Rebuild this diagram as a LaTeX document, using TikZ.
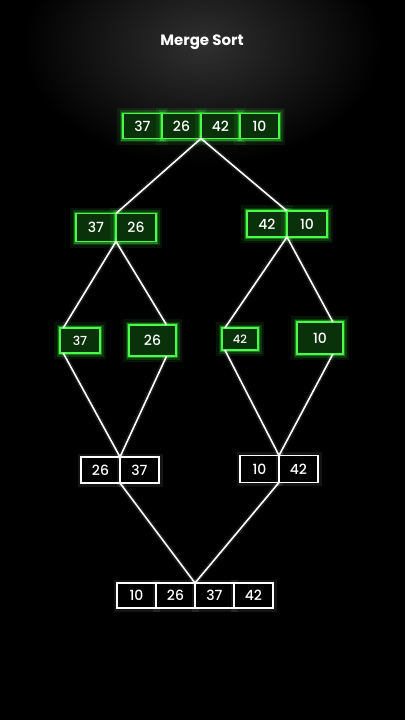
\documentclass[tikz,border=0pt]{standalone}
\usepackage{fontspec}
\setmainfont{Poppins}
\newfontfamily\numfont{Poppins Medium}
\definecolor{NeonGreen}{RGB}{70,255,70}
\definecolor{CellGreen}{RGB}{10,50,10}
\definecolor{TitleGlow}{RGB}{48,48,48}
\usetikzlibrary{calc, positioning}

\begin{document}
\begin{tikzpicture}[x=1pt, y=-1pt,
    cellg/.style={draw=NeonGreen, fill=CellGreen, line width=1.8pt, text=white,
        inner sep=0pt, outer sep=0pt, minimum width=39pt, minimum height=25pt,
        font=\numfont\fontsize{14}{14}\selectfont,
        preaction={draw=NeonGreen, line width=12pt, draw opacity=0.08},
        preaction={draw=NeonGreen, line width=7pt, draw opacity=0.15},
        preaction={draw=NeonGreen, line width=4pt, draw opacity=0.35}},
    cellw/.style={draw=white, fill=black, line width=1.6pt, text=white,
        inner sep=0pt, outer sep=0pt, minimum width=39pt, minimum height=25pt,
        font=\numfont\fontsize{14}{14}\selectfont,
        preaction={draw=white, line width=7pt, draw opacity=0.08}},
    link/.style={draw=white, line width=1.6pt, line join=round,
        preaction={draw=white, line width=5pt, draw opacity=0.1}}]

    \useasboundingbox (0,0) rectangle (405,720);
    \fill[black] (0,0) rectangle (405,720);
    \shade[inner color=TitleGlow, outer color=black] (202,45) ellipse [x radius=180, y radius=120];

    \node[text=white, font=\bfseries\fontsize{15}{15}\selectfont] (title) at (202,42) {Merge Sort};

    % Fila inicial
    \node[cellg] (t1) at (142.5,126) {37};
    \node[cellg, right=0pt of t1] (t2) {26};
    \node[cellg, right=0pt of t2] (t3) {42};
    \node[cellg, right=0pt of t3] (t4) {10};

    % Primera division
    \node[cellg, minimum width=40pt, minimum height=28pt] (a1) at (96,227.5) {37};
    \node[cellg, minimum width=40pt, minimum height=28pt, right=0pt of a1] (a2) {26};
    \node[cellg, minimum width=40pt, minimum height=26pt] (b1) at (267,224) {42};
    \node[cellg, minimum width=40pt, minimum height=26pt, right=0pt of b1] (b2) {10};

    % Elementos sueltos
    \node[cellg, minimum width=40pt, font=\numfont\fontsize{12.5}{12.5}\selectfont] (c1) at (80,340.5) {37};
    \node[cellg, minimum width=47pt, minimum height=31pt] (c2) at (152.5,340.5) {26};
    \node[cellg, minimum width=36pt, minimum height=22pt, font=\numfont\fontsize{11.5}{11.5}\selectfont] (c3) at (240,339) {42};
    \node[cellg, minimum width=46pt, minimum height=32pt] (c4) at (320,338) {10};

    % Mezcla de pares
    \node[cellw, minimum height=26pt] (d1) at (100.5,470) {26};
    \node[cellw, minimum height=26pt, right=0pt of d1] (d2) {37};
    \node[cellw, minimum height=27pt] (e1) at (259.5,469) {10};
    \node[cellw, minimum height=27pt, right=0pt of e1] (e2) {42};

    % Resultado final
    \node[cellw] (f1) at (136.5,595.5) {10};
    \node[cellw, right=0pt of f1] (f2) {26};
    \node[cellw, right=0pt of f2] (f3) {37};
    \node[cellw, right=0pt of f3] (f4) {42};

    % Puntos de contacto en los bordes
    \coordinate (c1top) at ($(c1.north west)!0.08!(c1.north east)$);
    \coordinate (c1bot) at ($(c1.south west)!0.08!(c1.south east)$);
    \coordinate (c2top) at ($(c2.north west)!0.8!(c2.north east)$);
    \coordinate (c2bot) at ($(c2.south west)!0.8!(c2.south east)$);
    \coordinate (c3top) at ($(c3.north west)!0.08!(c3.north east)$);
    \coordinate (c3bot) at ($(c3.south west)!0.08!(c3.south east)$);
    \coordinate (c4top) at ($(c4.north west)!0.78!(c4.north east)$);
    \coordinate (c4bot) at ($(c4.south west)!0.78!(c4.south east)$);

    % Dibujar conexiones
    \draw[link] (a1.north east) -- (t2.south east) -- (b1.north east);
    \draw[link] (c1top) -- (a1.south east) -- (c2top);
    \draw[link] (c3top) -- (b1.south east) -- (c4top);
    \draw[link] (c1bot) -- (d1.north east) -- (c2bot);
    \draw[link] (c3bot) -- (e1.north east) -- (c4bot);
    \draw[link] (d1.south east) -- (f2.north east) -- (e1.south east);

\end{tikzpicture}
\end{document}
